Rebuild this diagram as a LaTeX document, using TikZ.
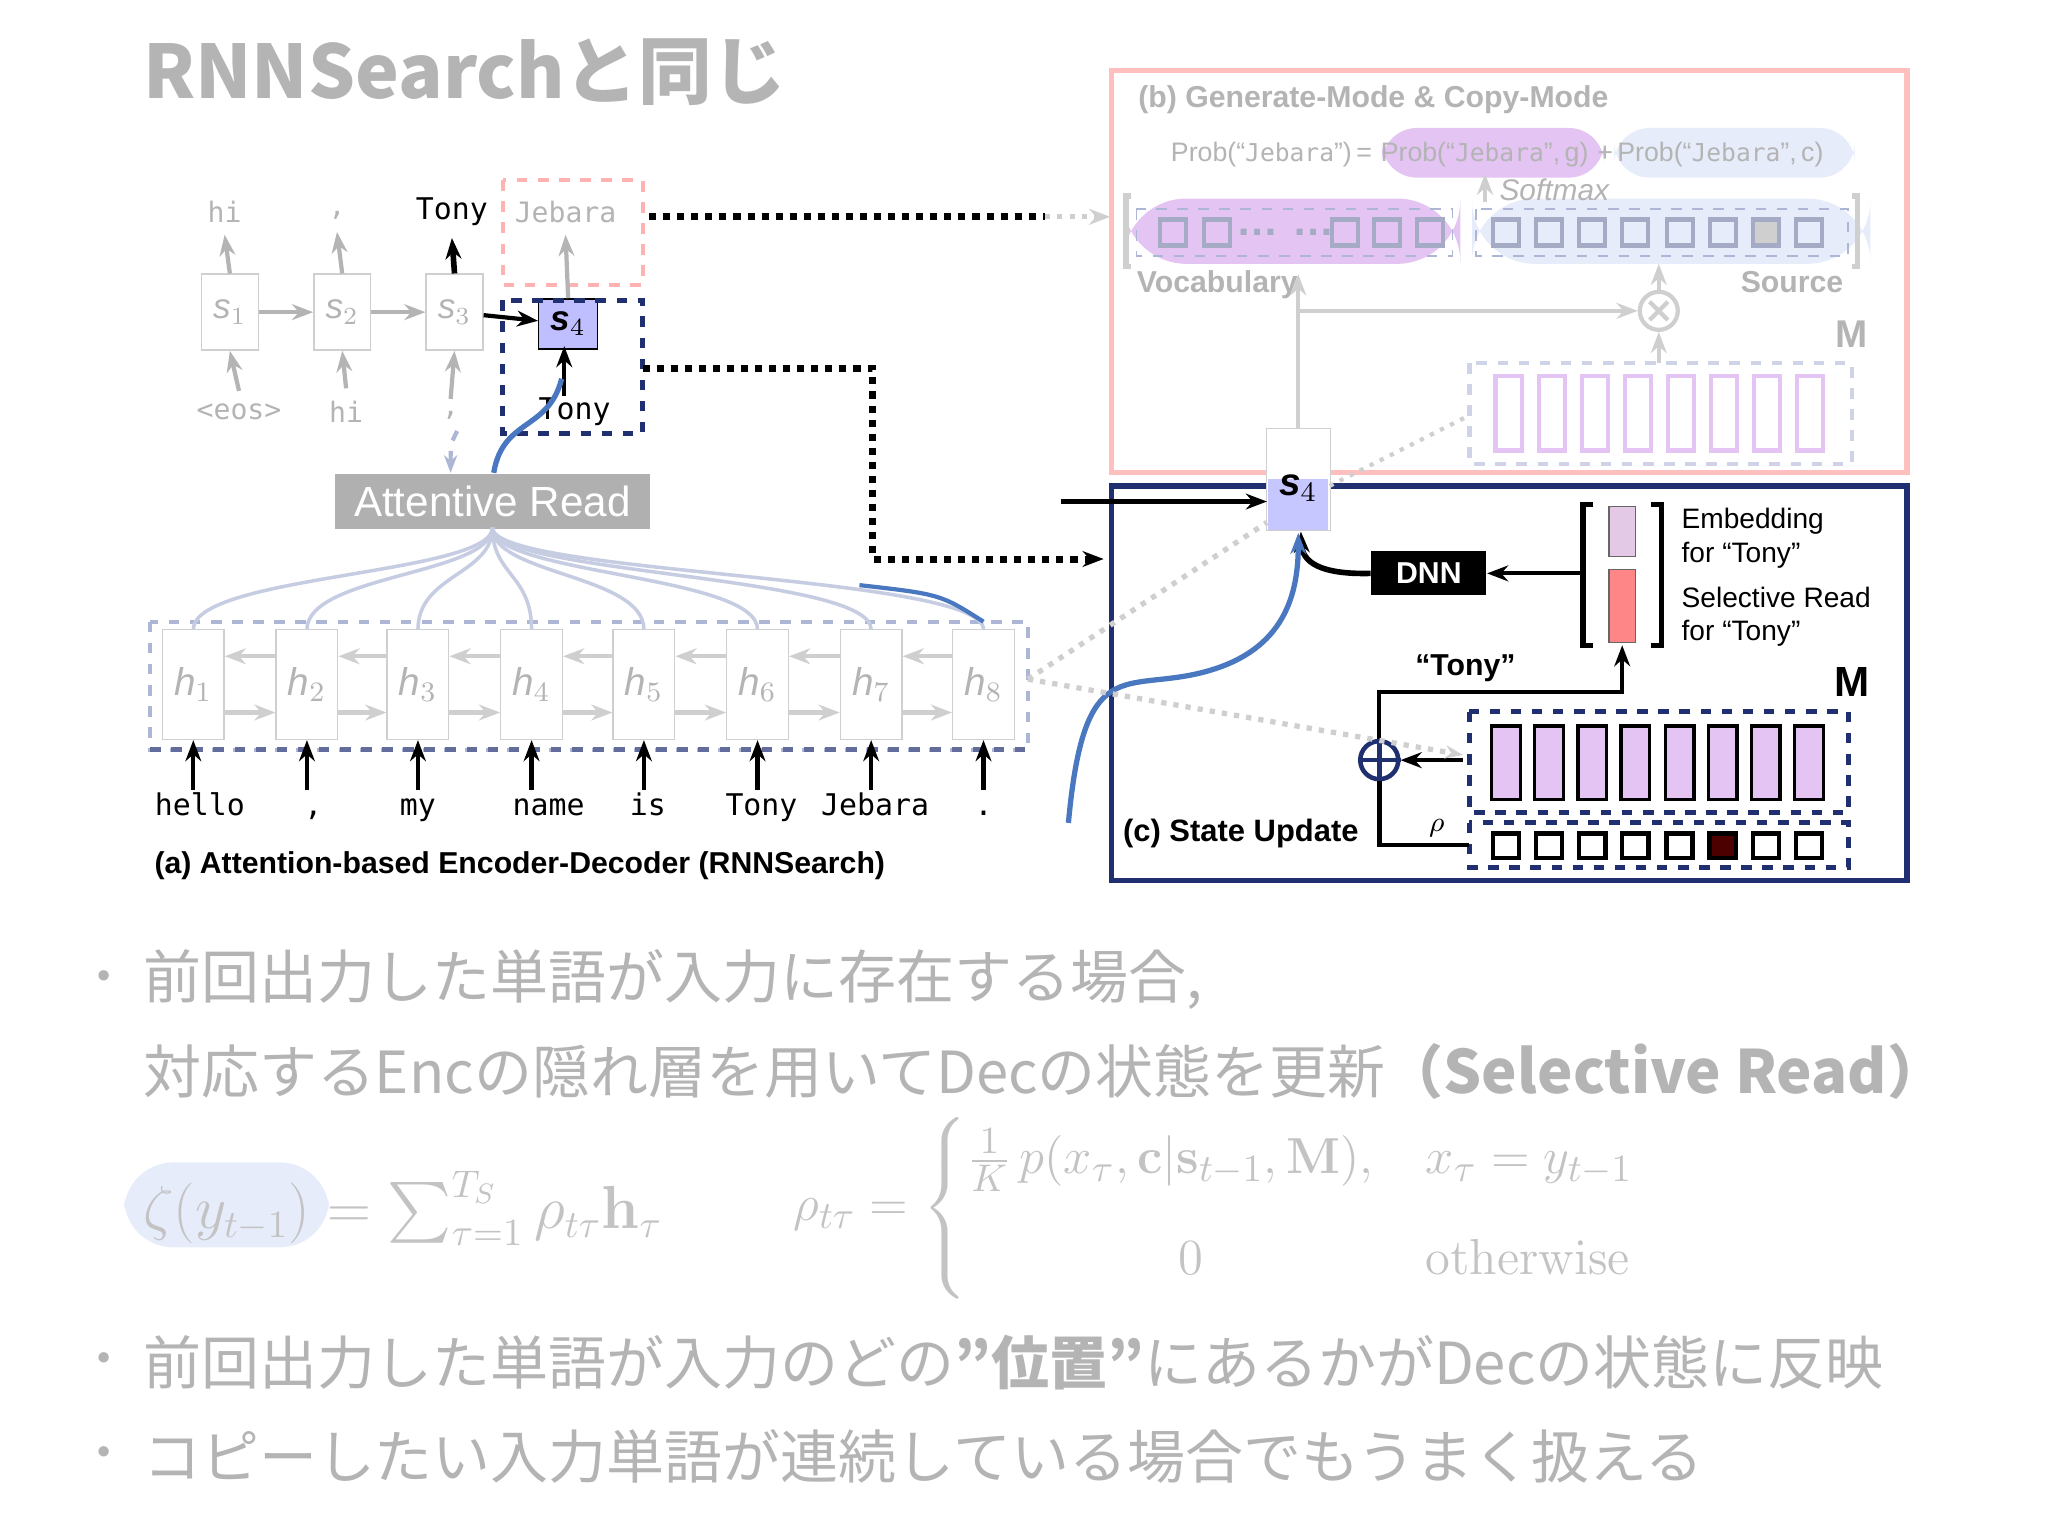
\documentclass[tikz,border=0pt]{standalone}
\usepackage{fontspec}
\usepackage{amsmath}
\setmainfont{Liberation Sans}
\newfontfamily\cjk{Noto Sans CJK JP}
\newfontfamily\mono{DejaVu Sans Mono}
\DeclareMathAlphabet{\mathbfcm}{OT1}{cmr}{bx}{n}
\DeclareMathAlphabet{\mathcmr}{OT1}{cmr}{m}{n}
\usetikzlibrary{arrows.meta,calc}
\definecolor{tg}{HTML}{B4B4B4}
\definecolor{fg}{HTML}{CFCFCF}
\definecolor{nav}{HTML}{1F2F70}
\definecolor{lnav}{HTML}{AEB6D6}
\definecolor{pur}{HTML}{E3C4F2}
\definecolor{lpur}{HTML}{EDE0F5}
\definecolor{lblu}{HTML}{E6ECFA}
\definecolor{bl}{HTML}{4A78C0}
\tikzset{
 ga/.style={-{Stealth[length=6pt]},draw=tg,line width=1.2pt},
 ba/.style={-{Stealth[length=6pt]},draw=black,line width=1.2pt},
 lab/.style={font=\mono\fontsize{8}{9}\selectfont,text=tg},
 btxt/.style={font=\cjk\fontsize{16.5}{20}\selectfont,text=tg,anchor=west},
 dbox/.style={draw=fg,fill=white,minimum width=0.55cm,minimum height=0.76cm,text=tg,font=\itshape\fontsize{10}{10}\selectfont},
 hbox/.style={draw=fg,fill=white,minimum width=0.55cm,minimum height=1.1cm,text=tg,font=\itshape\fontsize{11}{11}\selectfont},
 wrd/.style={font=\mono\fontsize{8.5}{9}\selectfont,anchor=base},
}
\begin{document}
\begin{tikzpicture}[x=0.01306cm,y=-0.01306cm]
\useasboundingbox (0,0) rectangle (1568,1176);
\fill[white] (0,0) rectangle (1568,1176);
\node[anchor=west,text=tg,font=\cjk\bfseries\fontsize{21}{24}\selectfont] (title) at (100,55) {RNNSearchと同じ};

% ---------- (a) decoder ----------
\node[dbox] (s1) at (176,239) {s$_1$};
\node[dbox] (s2) at (262,239) {s$_2$};
\node[dbox] (s3) at (348,239) {s$_3$};
\node[lab] (o1) at (172,162) {hi};
\node[lab] (o2) at (258,165) {,};
\node[font=\mono\fontsize{8.5}{9}\selectfont] (o3) at (346,162) {Tony};
\node[lab] (i1) at (183,315) {<eos>};
\node[lab] (i2) at (265,315) {hi};
\node[lab] (i3) at (345,318) {,};
\draw[ga] (s1.north)--(o1.south);
\draw[ga] (s2.north)--(o2.south);
\draw[ba,line width=1.6pt] (s3.north)--(o3.south);
\draw[ga] (i1.north)--(s1.south);
\draw[ga] (i2.north)--(s2.south);
\draw[ga] (i3.north)--(s3.south);
\draw[ga] (s1)--(s2);
\draw[ga] (s2)--(s3);
\node[draw=black,fill=blue!25,minimum width=0.55cm,minimum height=0.5cm,font=\bfseries\itshape\fontsize{10}{10}\selectfont] (s4) at (435,248) {s$_4$};
\draw[ba] (s3)--(s4);
\draw[draw=red!30,dashed,line width=1.2pt] (385,138) rectangle (492,218);
\node[lab] (o4) at (433,162) {Jebara};
\draw[ga] (s4.north)--(o4.south);
\draw[draw=nav,dashed,line width=1.5pt] (385,230) rectangle (492,332);
\node[font=\mono\fontsize{8.5}{9}\selectfont] (i4) at (440,315) {Tony};
\draw[ba] (432,303)--(432,265);
\node[fill=fg!85!black,text=white,minimum width=3.15cm,minimum height=0.5cm,font=\fontsize{12}{12}\selectfont] (ar) at (377,384) {Attentive Read};
\draw[bl,line width=1.5pt] (378,362) .. controls (385,320) and (420,330) .. (430,290);
\draw[lnav,dashed,line width=1.2pt,-{Stealth[length=5pt]}] (350,330) .. controls (345,340) .. (345,362);

% ---------- encoder ----------
\draw[lnav,dashed,line width=1.2pt] (115,476) rectangle (787,574);
\draw[nav!70,dashed,line width=1.5pt] (115,574)--(787,574);
\begin{scope}[draw=lnav!70,line width=1pt]
\foreach \x in {148,235,320,407,493,580,667,753}{
 \draw (377,404) .. controls (377,440) and (\x,440) .. (\x,482);
}
\end{scope}
\foreach \i/\x in {1/148,2/235,3/320,4/407,5/493,6/580,7/667,8/753}{
 \node[hbox] (h\i) at (\x,524) {h$_\i$};
 \draw[ba] (\x,605)--(h\i.south);
}
\node[wrd] (w1) at (153,624) {hello};
\node[wrd] (w2) at (240,624) {,};
\node[wrd] (w3) at (320,624) {my};
\node[wrd] (w4) at (420,624) {name};
\node[wrd] (w5) at (496,624) {is};
\node[wrd] (w6) at (583,624) {Tony};
\node[wrd] (w7) at (670,624) {Jebara};
\node[wrd] (w8) at (753,624) {.};
\draw[bl,line width=1.2pt] (658,448) .. controls (720,455) .. (753,476);
\foreach \a/\b in {1/2,2/3,3/4,4/5,5/6,6/7,7/8}{
 \draw[ga,draw=fg] ([yshift=-8pt]h\a.east)--([yshift=-8pt]h\b.west);
 \draw[ga,draw=fg] ([yshift=8pt]h\b.west)--([yshift=8pt]h\a.east);
}
\node[font=\bfseries\fontsize{8.6}{10}\selectfont] (capa) at (398,663) {(a) Attention-based Encoder-Decoder (RNNSearch)};

% ---------- (b) ----------
\draw[red!25,line width=1.5pt] (851,54) rectangle (1460,362);
\node[anchor=west,text=tg,font=\bfseries\fontsize{8.6}{10}\selectfont] (capb) at (862,76) {(b) Generate-Mode \& Copy-Mode};
\fill[pur,rounded corners=10pt] (1058,98) rectangle (1228,136);
\fill[lblu,rounded corners=10pt] (1236,98) rectangle (1420,136);
\node[anchor=west,text=tg,font=\fontsize{7.6}{9}\selectfont,inner sep=0pt] (prob) at (896,118) {Prob(“{\mono\fontsize{7}{8}\selectfont Jebara}”)\,=\,\,Prob(“{\mono\fontsize{7}{8}\selectfont Jebara}”,\,g)\,\,+\,Prob(“{\mono\fontsize{7}{8}\selectfont Jebara}”,\,c)};
\fill[pur,rounded corners=18pt] (860,152) rectangle (1118,202);
\fill[lblu,rounded corners=18pt] (1127,152) rectangle (1432,202);
\draw[fg,line width=1.5pt] (866,150) -- (862,150) -- (862,204) -- (866,204);
\draw[fg,line width=1.5pt] (1418,150) -- (1422,150) -- (1422,204) -- (1418,204);
\draw[lnav,dashed] (870,160) rectangle (1112,196);
\draw[lnav,dashed] (1130,160) rectangle (1415,196);
\foreach \x in {898,932,1030,1062,1095}{\draw[lnav!80!gray,line width=1.2pt] (\x-10,168) rectangle (\x+10,188);}
\node[text=lnav!80!gray,font=\bfseries\fontsize{12}{12}\selectfont] (dots) at (984,178) {…\,\,…};
\foreach \x [count=\k] in {1153,1186,1219,1252,1286,1319,1352,1385}{
 \ifnum\k=7 \fill[fg] (\x-10,168) rectangle (\x+10,188);\fi
 \draw[lnav!80!gray,line width=1.2pt] (\x-10,168) rectangle (\x+10,188);}
\node[text=tg,font=\itshape\fontsize{8.5}{9}\selectfont] (soft) at (1190,145) {Softmax};
\draw[ga,draw=fg] (1137,155)--(1137,133);
\node[text=tg,font=\bfseries\fontsize{8.6}{10}\selectfont] (voc) at (932,218) {Vocabulary};
\node[text=tg,font=\bfseries\fontsize{8.6}{10}\selectfont] (src) at (1372,216) {Source};
\node[draw=fg,circle,inner sep=0pt,minimum size=0.38cm,line width=1.2pt] (ot) at (1270,238) {};
\draw[fg,line width=1.2pt] (1263,231)--(1277,245) (1263,245)--(1277,231);
\draw[ga,draw=fg] (ot.north)--(1270,202);
\draw[lnav!60,dashed,line width=1.2pt] (1125,278) rectangle (1418,355);
\foreach \x in {1155,1188,1221,1254,1287,1320,1353,1386}{\draw[pur,fill=white,line width=1.2pt] (\x-10,288) rectangle (\x+10,345);}
\node[text=tg,font=\bfseries\fontsize{11}{11}\selectfont] (mb) at (1418,256) {M};
\draw[ga,draw=fg] (1270,278)--(ot.south);

% ---------- (c) ----------
\draw[nav,line width=1.6pt] (851,372) rectangle (1460,674);
\node[draw=fg,fill=white,minimum width=0.64cm,minimum height=1.02cm,inner sep=0pt] (s4b) at (994,367) {};
\fill[blue!22] (971,367) rectangle (1017,406);
\node[font=\bfseries\itshape\fontsize{11}{11}\selectfont] (s4bl) at (994,374) {s$_4$};
\draw[ga,draw=fg] (s4b.north)--(994,210);
\draw[ga,draw=fg] (994,238)--(ot.west);
\draw[fg,dotted,line width=1.2pt] (1018,372)--(1125,318);
\node[fill=black,text=white,font=\bfseries\fontsize{8.6}{10}\selectfont,minimum width=1.15cm,minimum height=0.3cm] (dnn) at (1094,439) {DNN};
\draw[ba,line width=1.6pt] (dnn.west) .. controls (1010,440) and (997,430) .. (996,407);
\fill[lpur!60!violet!45,draw=black!60] (1232,388) rectangle (1252,426);
\fill[red!30!pink,draw=black!60] (1232,436) rectangle (1252,492);
\draw[line width=1.5pt] (1220,386)--(1212,386)--(1212,494)--(1220,494);
\draw[line width=1.5pt] (1264,386)--(1272,386)--(1272,494)--(1264,494);
\draw[ba] (1212,439)--(dnn.east);
\node[anchor=west,align=left,font=\fontsize{8}{9.5}\selectfont] (emb) at (1278,412) {Embedding\\for “Tony”};
\node[anchor=west,align=left,font=\fontsize{8}{9.5}\selectfont] (sel) at (1278,472) {Selective Read\\for “Tony”};
\node[draw=nav,circle,line width=1.3pt,inner sep=0pt,minimum size=0.38cm] (op) at (1056,582) {};
\draw[nav,line width=1.3pt] (op.north)--(op.south) (op.west)--(op.east);
\draw[ba] (op.north)--(1056,530)--(1242,530)--(1242,494);
\node[font=\bfseries\fontsize{8.6}{10}\selectfont] (tq) at (1122,512) {“Tony”};
\node[font=\bfseries\fontsize{12}{12}\selectfont] (mc) at (1418,522) {M};
\draw[nav,dashed,line width=1.5pt] (1125,545) rectangle (1415,622);
\foreach \x in {1153,1186,1219,1252,1286,1319,1352,1385}{\draw[fill=pur,line width=1pt] (\x-11,556) rectangle (\x+11,612);}
\draw[nav,dashed,line width=1.5pt] (1125,630) rectangle (1415,664);
\foreach \x [count=\k] in {1153,1186,1219,1252,1286,1319,1352,1385}{
 \ifnum\k=6 \fill[black!70!red] (\x-10,638) rectangle (\x+10,657);\fi
 \draw[line width=1.3pt] (\x-10,638) rectangle (\x+10,657);}
\draw[ba] (1120,582)--(op.east);
\draw[line width=1.3pt] (op.south)--(1056,647)--(1125,647);
\node[font=\itshape\fontsize{8}{9}\selectfont] (rho) at (1100,634) {$\rho$};
\node[font=\bfseries\fontsize{8.8}{10}\selectfont] (capc) at (950,638) {(c) State Update};
\draw[bl,line width=1.5pt,-{Stealth[length=6pt]}] (818,630) .. controls (830,500) and (860,530) .. (920,515) .. controls (980,500) and (994,460) .. (994,408);
\draw[ba] (812,384)--(970,384);
% dotted connectors
\draw[dotted,line width=2pt] (497,166)--(800,166);
\draw[fg,dotted,line width=1.5pt,-{Stealth[length=6pt]}] (800,166)--(850,166);
\draw[dotted,line width=2pt,-{Stealth[length=6pt]}] (492,282)--(668,282)--(668,428)--(845,428);
\draw[fg,dotted,line width=1.5pt] (787,520)--(970,400);
\draw[fg,dotted,line width=1.5pt,-{Stealth[length=5pt]}] (787,520)--(1120,578);

% ---------- bottom text ----------
\node[text=tg,font=\cjk\fontsize{14}{14}\selectfont] (b1) at (80,752) {・};
\node[btxt] (t1) at (100,750) {前回出力した単語が入力に存在する場合,};
\node[btxt] (t2) at (100,820) {対応するEncの隠れ層を用いてDecの状態を更新{\bfseries （}{\fontsize{17}{20}\bfseries\selectfont Selective Read}{\bfseries ）}};
\fill[lblu,rounded corners=14pt] (95,890) rectangle (252,955);
\node[text=tg!80,font=\fontsize{16}{20}\selectfont,anchor=west] (f1) at (100,925) {$\zeta(y_{t-1}) = \textstyle\sum_{\tau=1}^{T_S}\rho_{t\tau}\mathbfcm{h}_\tau$};
\node[text=tg!80,font=\fontsize{15}{19}\selectfont,anchor=west] (f2) at (598,925) {$\rho_{t\tau} = \begin{cases}\frac{1}{K}\,p(x_\tau,\mathbfcm{c}|\mathbfcm{s}_{t-1},\mathbfcm{M}), & x_\tau=y_{t-1}\\[6pt] \qquad\qquad 0 & \mathcmr{otherwise}\end{cases}$};
\node[text=tg,font=\cjk\fontsize{14}{14}\selectfont] (b2) at (80,1045) {・};
\node[btxt] (t3) at (100,1043) {前回出力した単語が入力のどの\textbf{”位置”}にあるかがDecの状態に反映};
\node[text=tg,font=\cjk\fontsize{14}{14}\selectfont] (b3) at (80,1117) {・};
\node[btxt] (t4) at (100,1115) {コピーしたい入力単語が連続している場合でもうまく扱える};
\end{tikzpicture}
\end{document}
